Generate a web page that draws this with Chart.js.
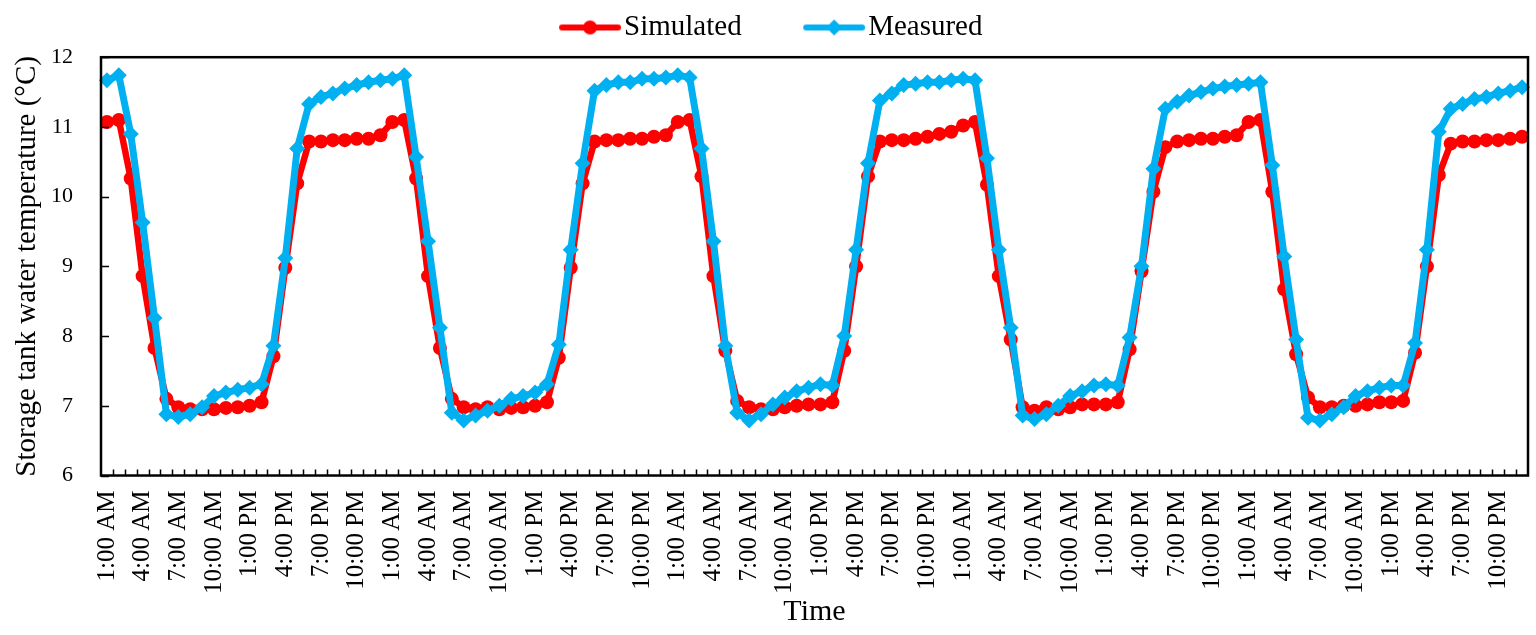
<!DOCTYPE html>
<html lang="en">
<head>
  <meta charset="UTF-8">
  <title>Storage tank water temperature</title>
  <script src="https://cdn.jsdelivr.net/npm/chart.js"></script>
  <style>
    body { margin: 0; background: #fff; }
    canvas { display: block; }
  </style>
</head>
<body>
  <canvas id="tankChart" width="1536" height="635"></canvas>
  <script>
    // hour names of one day, repeated for the 5 days shown
    const dayHours = ['1:00 AM', '2:00 AM', '3:00 AM', '4:00 AM', '5:00 AM', '6:00 AM',
      '7:00 AM', '8:00 AM', '9:00 AM', '10:00 AM', '11:00 AM', '12:00 PM',
      '1:00 PM', '2:00 PM', '3:00 PM', '4:00 PM', '5:00 PM', '6:00 PM',
      '7:00 PM', '8:00 PM', '9:00 PM', '10:00 PM', '11:00 PM', '12:00 AM'];
    const days = 5;
    const labelEvery = 3;

    const simulated = [
      11.07, 11.10, 10.26, 8.86, 7.83, 7.10, 6.98, 6.95, 6.95, 6.95, 6.97, 6.98,
      7.00, 7.05, 7.71, 8.98, 10.19, 10.79, 10.79, 10.81, 10.81, 10.83, 10.83, 10.88,
      11.07, 11.10, 10.26, 8.86, 7.83, 7.10, 6.98, 6.95, 6.98, 6.95, 6.97, 6.98,
      7.00, 7.05, 7.69, 8.98, 10.19, 10.79, 10.81, 10.81, 10.83, 10.83, 10.86, 10.88,
      11.07, 11.10, 10.29, 8.86, 7.79, 7.07, 6.98, 6.95, 6.95, 6.98, 7.00, 7.02,
      7.02, 7.05, 7.79, 9.00, 10.29, 10.79, 10.81, 10.81, 10.83, 10.86, 10.90, 10.93,
      11.02, 11.07, 10.17, 8.86, 7.95, 6.98, 6.93, 6.98, 6.95, 6.98, 7.02, 7.02,
      7.02, 7.05, 7.81, 8.93, 10.07, 10.71, 10.79, 10.81, 10.83, 10.83, 10.86, 10.88,
      11.07, 11.10, 10.07, 8.67, 7.74, 7.12, 6.98, 6.98, 7.00, 7.00, 7.02, 7.05,
      7.05, 7.07, 7.76, 9.00, 10.31, 10.76, 10.79, 10.79, 10.81, 10.81, 10.83, 10.86
    ];

    const measured = [
      11.67, 11.74, 10.90, 9.63, 8.26, 6.88, 6.84, 6.88, 6.98, 7.14, 7.19, 7.23,
      7.26, 7.31, 7.86, 9.12, 10.69, 11.33, 11.43, 11.48, 11.55, 11.60, 11.64, 11.67,
      11.69, 11.74, 10.57, 9.36, 8.12, 6.90, 6.79, 6.86, 6.93, 7.00, 7.10, 7.14,
      7.19, 7.31, 7.88, 9.24, 10.48, 11.52, 11.60, 11.64, 11.64, 11.69, 11.69, 11.71,
      11.74, 11.71, 10.69, 9.36, 7.86, 6.90, 6.79, 6.88, 7.02, 7.12, 7.21, 7.26,
      7.31, 7.29, 8.00, 9.24, 10.48, 11.38, 11.48, 11.60, 11.62, 11.64, 11.64, 11.67,
      11.69, 11.67, 10.55, 9.24, 8.12, 6.86, 6.81, 6.88, 7.00, 7.14, 7.21, 7.29,
      7.31, 7.29, 7.98, 9.00, 10.40, 11.26, 11.36, 11.45, 11.50, 11.55, 11.58, 11.60,
      11.62, 11.64, 10.45, 9.14, 7.95, 6.83, 6.79, 6.88, 6.98, 7.14, 7.21, 7.26,
      7.29, 7.29, 7.90, 9.24, 10.93, 11.26, 11.33, 11.40, 11.43, 11.48, 11.52, 11.57
    ];

    const labels = [];
    for (let d = 0; d < days; d++) labels.push(...dayHours);

    const RED = '#ff0000';
    const BLUE = '#00b0f0';

    Chart.defaults.font.family = '"Liberation Serif", "Times New Roman", serif';
    Chart.defaults.color = '#000';

    // legend sample: thick line with the marker in the middle
    function legendSample(color, style) {
      const c = document.createElement('canvas');
      c.width = 74; c.height = 20;
      const g = c.getContext('2d');
      g.strokeStyle = color;
      g.lineWidth = 6;
      g.lineCap = 'round';
      g.beginPath(); g.moveTo(15, 10); g.lineTo(71, 10); g.stroke();
      g.fillStyle = color;
      g.beginPath();
      if (style === 'circle') {
        g.arc(43, 10, 7, 0, Math.PI * 2);
      } else {
        g.moveTo(43, 2); g.lineTo(51, 10); g.lineTo(43, 18); g.lineTo(35, 10); g.closePath();
      }
      g.fill();
      return c;
    }

    // box round the plot plus the short inside tick marks
    const frame = {
      id: 'frame',
      afterDraw(chart) {
        const { ctx, chartArea: a, scales: { x, y } } = chart;
        ctx.save();
        ctx.strokeStyle = '#000';
        ctx.lineWidth = 1.5;
        ctx.beginPath();
        y.ticks.forEach(t => {
          const py = Math.round(y.getPixelForValue(t.value)) + 0.5;
          ctx.moveTo(a.left, py); ctx.lineTo(a.left + 8, py);
        });
        for (let i = 1; i < labels.length; i++) {
          const px = Math.round(x.getPixelForValue(i - 0.5)) + 0.5;
          ctx.moveTo(px, a.bottom); ctx.lineTo(px, a.bottom - 6);
        }
        ctx.stroke();
        ctx.lineWidth = 2.5;
        ctx.strokeRect(a.left, a.top, a.right - a.left, a.bottom - a.top);
        ctx.restore();
      }
    };

    new Chart(document.getElementById('tankChart'), {
      type: 'line',
      data: {
        labels: labels,
        datasets: [
          {
            label: 'Simulated',
            data: simulated,
            borderColor: RED,
            backgroundColor: RED,
            borderWidth: 6.5,
            pointStyle: 'circle',
            pointRadius: 7,
            pointBorderWidth: 0,
            tension: 0,
            order: 2
          },
          {
            label: 'Measured',
            data: measured,
            borderColor: BLUE,
            backgroundColor: BLUE,
            borderWidth: 7,
            pointStyle: 'rectRot',
            pointRadius: 8,
            pointBorderWidth: 0,
            tension: 0,
            order: 1
          }
        ]
      },
      options: {
        responsive: false,
        animation: false,
        devicePixelRatio: 1,
        // the negative top offsets the wide legend padding used as the gap between items
        layout: { padding: { left: 10, right: 5, top: -48, bottom: 5 } },
        plugins: {
          tooltip: { enabled: false },
          // empty subtitle only used as a spacer between legend and plot
          subtitle: { display: true, text: '', font: { size: 1 }, padding: { top: 0, bottom: 4 } },
          legend: {
            position: 'top',
            weight: 3000,
            labels: {
              usePointStyle: true,
              pointStyleWidth: 51,
              padding: 61,
              font: { size: 29 },
              color: '#000',
              generateLabels: chart => chart.data.datasets.map((ds, i) => ({
                text: ds.label,
                datasetIndex: i,
                pointStyle: legendSample(ds.borderColor, ds.pointStyle),
                fillStyle: ds.borderColor,
                strokeStyle: ds.borderColor,
                lineWidth: 0,
                hidden: false
              }))
            }
          }
        },
        scales: {
          x: {
            offset: true,
            grid: {
              display: true,
              drawOnChartArea: false,
              drawTicks: true,
              tickLength: 15,
              color: 'rgba(0,0,0,0)'
            },
            border: { display: false },
            ticks: {
              autoSkip: false,
              minRotation: 90,
              maxRotation: 90,
              padding: 0,
              font: { size: 25 },
              color: '#000',
              callback: (v, i) => (i % labelEvery === 0 ? labels[i] : null)
            },
            title: { display: true, text: 'Time', font: { size: 30 }, padding: 0 }
          },
          y: {
            min: 6,
            max: 12,
            grid: { display: false, drawTicks: false },
            border: { display: false },
            ticks: { stepSize: 1, padding: 28, font: { size: 22 }, color: '#000' },
            title: {
              display: true,
              text: 'Storage tank water temperature (°C)',
              font: { size: 29 },
              padding: 0
            },
            afterFit: scale => { scale.width = 91; }
          }
        }
      },
      plugins: [frame]
    });
  </script>
</body>
</html>
